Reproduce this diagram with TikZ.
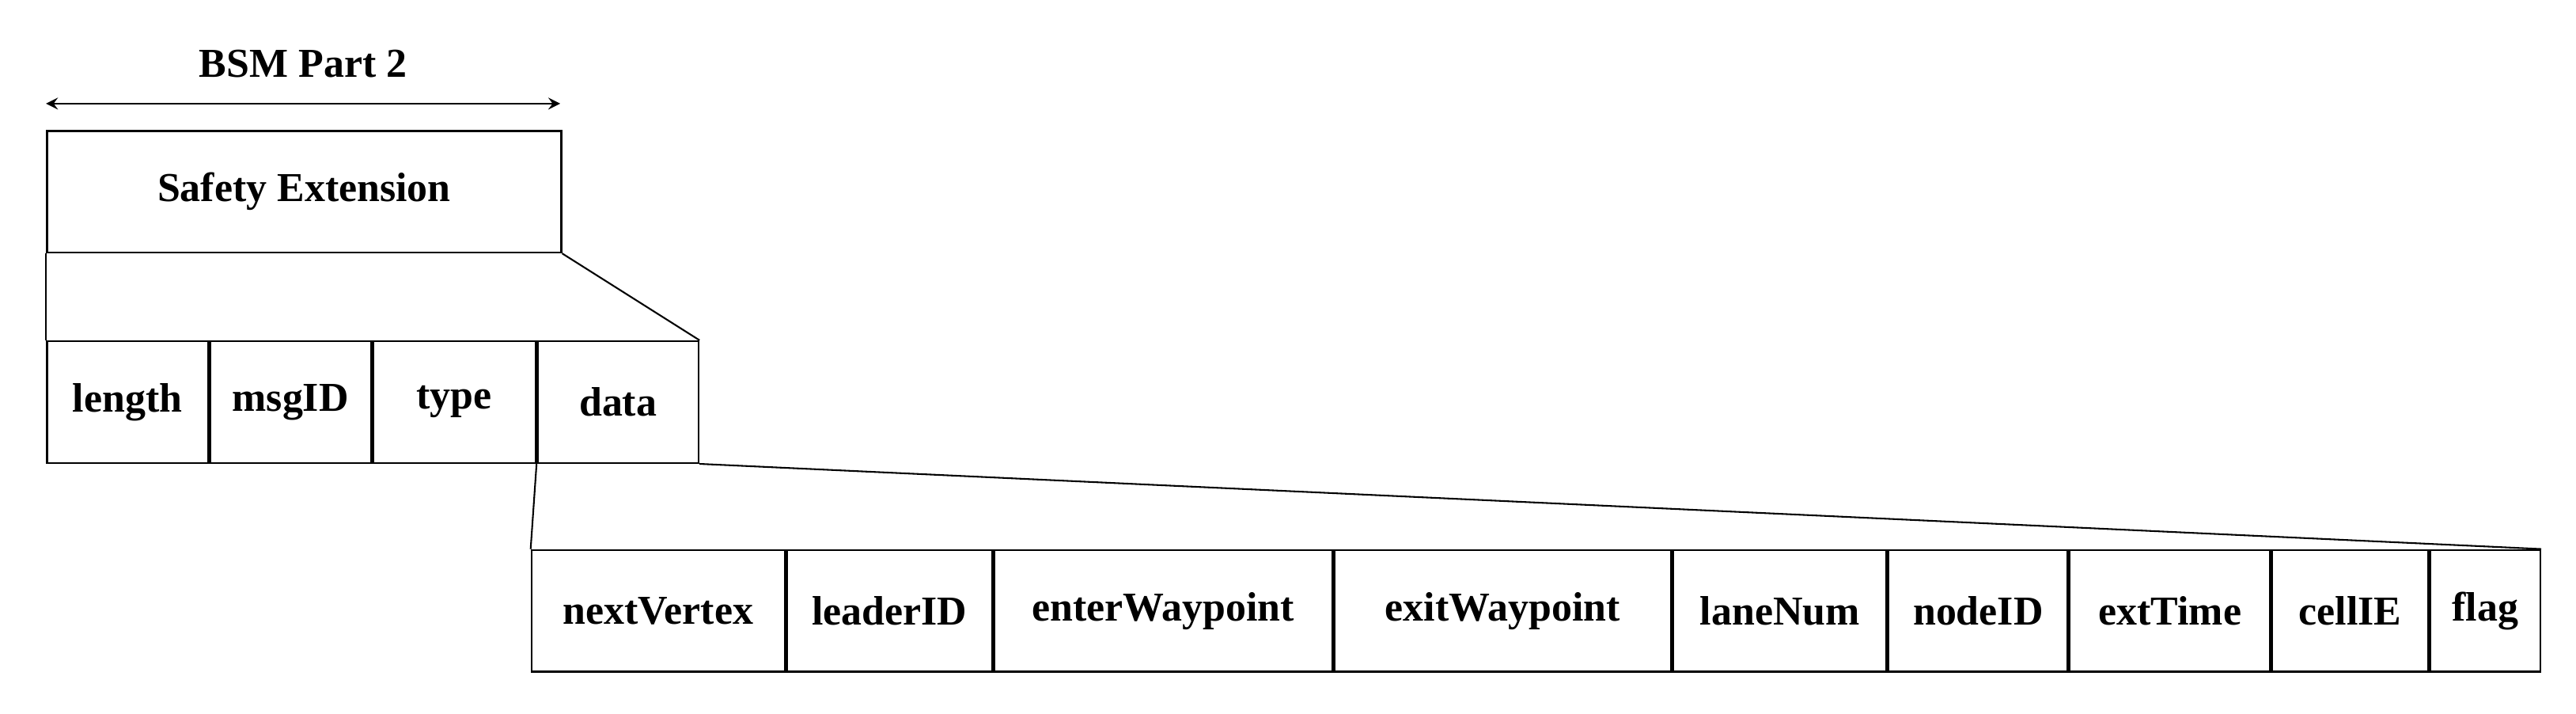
\documentclass[tikz,border=0pt]{standalone}
\usepackage{fontspec}
\setmainfont{Liberation Serif}
\usetikzlibrary{positioning}
\tikzset{
  field/.style={rectangle,draw,line width=0.6pt,minimum height=37pt,inner sep=0pt,font=\bfseries\fontsize{12.5}{14}\selectfont},
}
\begin{document}
\begin{tikzpicture}[x=0.5pt,y=-0.5pt,node distance=0pt]
  \useasboundingbox (0,0) rectangle (1568,434);
  % Define nodes
  \node (safety) [field,minimum width=156.5pt,anchor=north west] at (28,79) {Safety Extension};
  \coordinate (arrowL) at (28,63);
  \coordinate (arrowR) at (341,63);
  \node (title) [font=\bfseries\fontsize{12.5}{14}\selectfont,anchor=base] at (184.5,47) {BSM Part 2};

  \node (length) [field,minimum width=49pt,anchor=north west] at (28,207) {length};
  \node (msgID) [field,minimum width=49pt,right=of length] {msgID};
  \node (type) [field,minimum width=49.5pt,right=of msgID] {type};
  \node (data) [field,minimum width=49pt,right=of type] {data};

  \node (nextVertex) [field,minimum width=77pt,anchor=north west] at (323,334) {nextVertex};
  \node (leaderID) [field,minimum width=62.5pt,right=of nextVertex] {leaderID};
  \node (enterWaypoint) [field,minimum width=103pt,right=of leaderID] {enterWaypoint};
  \node (exitWaypoint) [field,minimum width=102.5pt,right=of enterWaypoint] {exitWaypoint};
  \node (laneNum) [field,minimum width=65pt,right=of exitWaypoint] {laneNum};
  \node (nodeID) [field,minimum width=54.5pt,right=of laneNum] {nodeID};
  \node (extTime) [field,minimum width=61pt,right=of nodeID] {extTime};
  \node (cellIE) [field,minimum width=47.5pt,right=of extTime] {cellIE};
  \node (flag) [field,minimum width=33.5pt,right=of cellIE] {flag};

  % Draw edges
  \draw [<->,>=stealth,line width=0.6pt] (arrowL) -- (arrowR);
  \draw [line width=0.5pt] (safety.south west) -- (length.north west);
  \draw [line width=0.5pt] (safety.south east) -- (data.north east);
  \draw [line width=0.5pt] (data.south west) -- (nextVertex.north west);
  \draw [line width=0.5pt] (data.south east) -- (flag.north east);
\end{tikzpicture}
\end{document}
